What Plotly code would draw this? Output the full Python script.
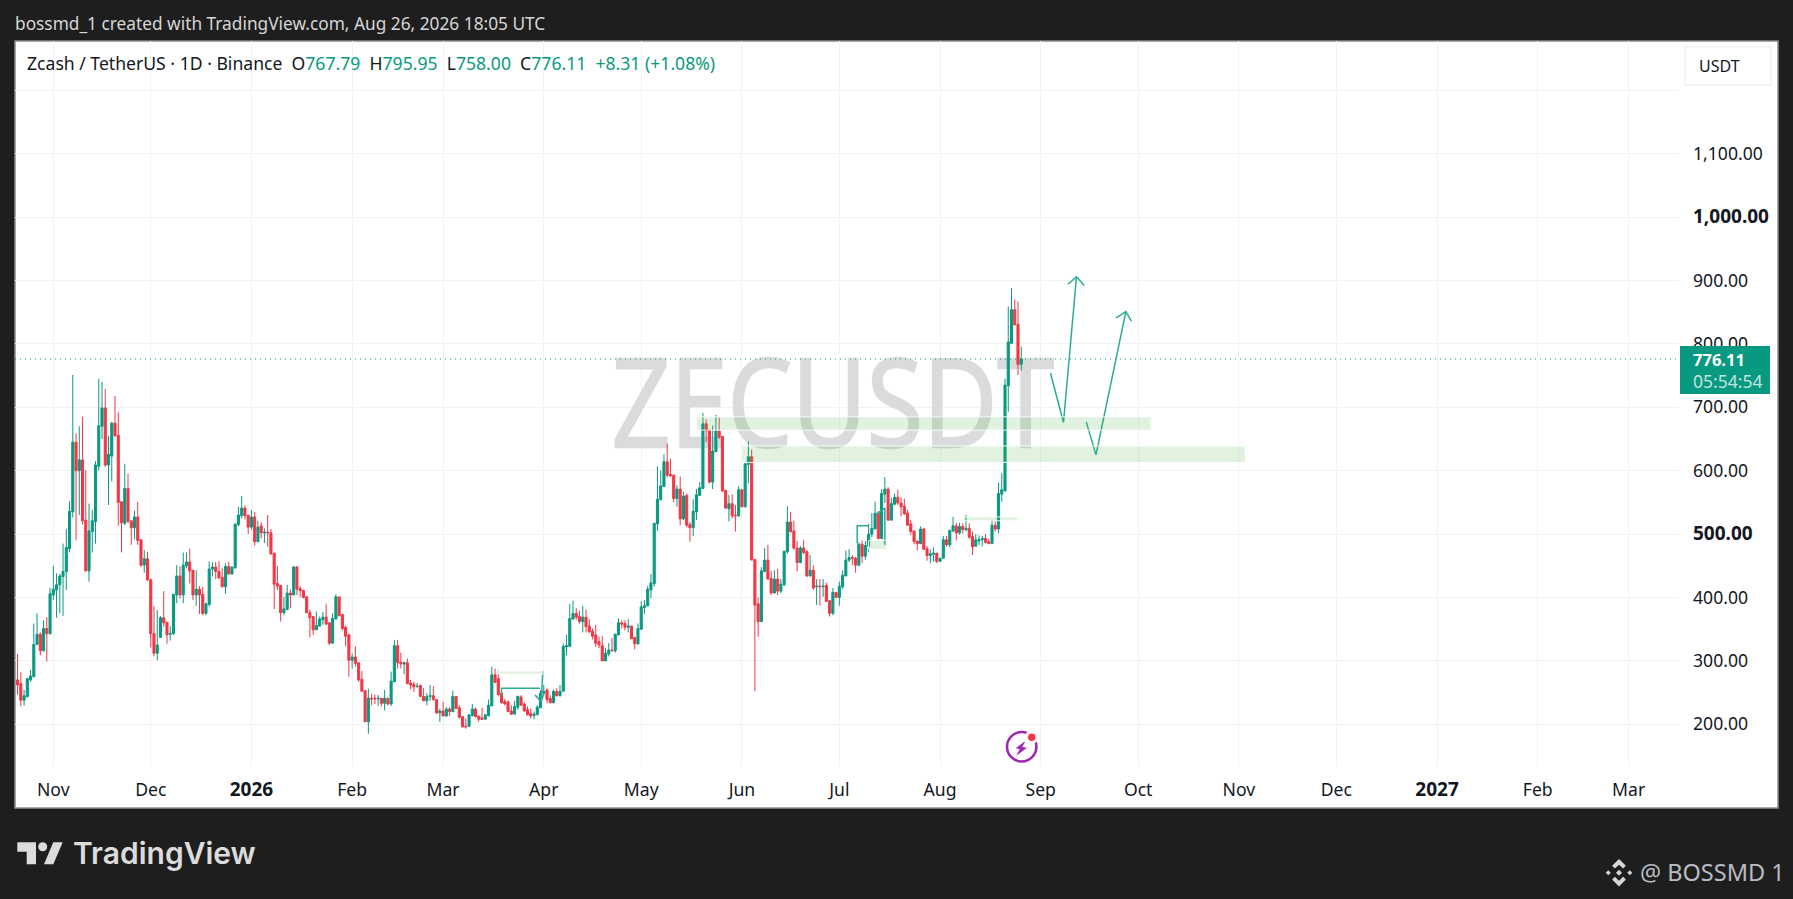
import pandas as pd
import plotly.graph_objects as go

# daily candles, Oct 21 2025 -> Aug 26 2026 (one row per month)
first_day = "2025-10-21"
opens = [
    270,264,238,244,270,275,326,342,316,351,343,
    404,412,420,433,441,477,535,645,600,617,522,442,504,520,607,670,699,609,623,675,656,551,517,572,521,510,527,491,451,461,
    428,343,312,337,368,361,342,343,404,434,404,450,456,443,404,413,405,375,389,445,448,441,432,417,449,437,447,515,529,541,530,
    511,527,488,513,502,503,502,470,422,419,376,381,407,404,448,414,411,401,376,370,349,355,365,369,360,328,366,401,373,353,341,
    301,306,297,271,253,204,241,241,240,241,233,241,232,267,324,298,295,297,265,263,259,261,244,237,244,245,239,218,
    221,213,224,220,244,226,212,197,197,214,224,213,210,208,214,229,278,272,249,236,235,221,216,227,243,232,223,217,214,215,226,
    249,254,241,234,252,245,252,322,323,366,375,370,362,369,355,347,341,330,324,300,311,317,316,341,360,359,353,355,337,327,
    350,384,387,412,422,516,554,575,614,594,593,556,571,524,561,515,510,535,561,572,674,664,582,630,663,654,569,540,548,530,529,
    570,543,610,622,460,390,362,441,459,430,407,429,410,420,472,519,505,478,455,478,472,434,443,417,418,417,419,395,375,408,
    400,417,434,459,463,462,451,484,465,481,500,508,533,493,563,571,522,547,558,549,544,533,516,505,489,485,508,477,466,468,470,
    457,462,491,483,505,513,502,512,507,509,496,481,489,491,493,488,485,514,508,563,568,734,801,854,831,767.79,
]
closes = [
    262,238,245,272,276,326,342,316,351,343,406,
    413,420,434,441,479,536,645,600,617,521,442,505,521,609,671,699,609,626,675,655,550,518,572,520,510,527,490,451,461,428,
    343,312,325,368,360,341,343,405,434,404,451,456,442,404,413,404,375,390,445,448,441,431,417,449,437,448,516,530,541,529,511,
    527,488,511,502,503,502,469,421,418,376,382,407,404,448,413,411,400,376,368,349,356,366,369,358,328,367,401,371,351,339,301,
    306,296,270,252,204,241,240,240,241,233,241,232,268,324,297,295,297,264,262,259,260,244,237,244,245,239,218,221,
    213,224,220,244,225,211,196,196,215,224,212,208,208,215,230,278,266,247,234,232,220,216,228,244,230,221,215,213,216,227,249,
    252,239,234,252,245,252,323,324,367,375,369,362,369,354,346,339,328,325,300,312,317,316,342,360,358,353,355,335,327,351,
    385,387,413,423,517,555,576,614,593,592,556,571,524,560,514,510,536,562,573,674,663,582,631,663,653,568,541,548,529,529,570,
    543,611,622,459,388,362,442,459,429,407,429,410,421,473,519,504,478,455,478,471,434,443,415,418,417,418,394,375,408,400,
    418,435,459,463,462,451,484,465,482,500,509,533,493,564,571,522,548,558,549,543,532,514,504,488,485,508,476,466,469,470,457,
    462,491,483,506,513,502,512,507,509,495,480,491,491,493,487,485,514,508,564,570,735,803,854,830,767.79,776.11,
]
highs = [
    311,282,254,272,286,359,375,345,364,369,415,
    450,438,437,485,508,552,751,659,670,685,601,548,538,615,745,740,729,655,677,718,692,551,611,595,521,537,551,491,475,472,
    430,387,380,371,410,361,355,405,451,449,471,471,477,443,443,418,417,392,457,456,456,457,446,454,456,449,516,543,560,545,530,
    538,535,521,519,509,530,508,470,450,419,401,420,413,450,450,418,412,401,381,370,378,370,377,390,360,375,405,401,373,356,343,
    312,323,297,284,253,256,248,247,246,241,254,241,283,333,333,313,299,304,270,267,265,263,257,249,262,260,239,225,
    235,227,227,253,244,230,212,209,215,232,226,213,226,215,239,291,288,285,257,240,238,230,237,245,246,235,228,225,220,230,254,
    262,257,246,255,257,262,327,341,390,395,383,379,387,381,366,351,357,338,339,320,328,336,343,367,364,364,366,355,337,359,
    394,396,418,437,517,607,600,626,643,619,593,577,591,567,564,519,555,571,582,691,681,664,671,688,684,654,569,562,563,546,576,
    570,611,646,633,460,400,448,478,483,442,443,445,429,473,544,535,521,489,481,491,475,467,451,429,429,429,423,395,415,408,
    425,443,474,476,467,464,487,490,489,516,533,551,536,571,590,574,557,564,570,558,556,538,522,505,489,512,510,481,476,479,470,
    462,497,497,506,527,518,518,517,530,517,504,500,498,497,500,493,522,520,581,596,745,859,888,870,867,795.95,
]
lows = [
    247,228,229,242,267,274,325,309,315,299,341,
    396,368,375,371,412,471,526,490,530,515,441,425,471,485,600,650,606,546,583,654,513,471,514,517,483,492,483,448,439,426,
    321,307,301,336,354,327,332,341,391,398,391,446,422,396,387,374,372,372,386,433,429,429,416,406,436,436,445,512,525,523,500,
    507,482,488,493,486,480,467,382,412,362,372,381,383,404,404,401,399,375,337,341,349,354,357,357,325,328,366,371,348,323,275,
    288,291,267,252,204,185,230,232,229,228,222,230,229,267,288,288,279,264,255,251,259,244,237,230,237,237,216,204,
    213,212,213,219,225,209,195,193,196,212,211,204,207,207,212,229,265,244,233,230,220,215,216,223,230,220,214,209,208,215,226,
    245,233,233,233,244,244,252,309,323,365,365,359,345,345,344,334,322,320,300,300,307,315,313,341,351,348,345,335,318,325,
    349,374,386,399,417,505,554,575,590,590,550,543,514,522,511,488,497,522,561,572,645,580,571,630,650,567,540,520,525,504,527,
    543,542,580,459,252,338,362,441,429,404,407,404,407,418,469,502,475,441,454,468,432,433,412,388,387,401,393,370,372,399,
    387,413,434,456,451,439,449,454,459,472,495,508,492,493,549,522,522,546,546,528,530,514,499,484,474,485,475,458,454,457,454,
    457,462,480,479,504,490,499,501,504,493,467,480,483,481,485,484,485,504,501,551,568,693,801,830,751,758,
]
assert len(opens) == len(closes) == len(highs) == len(lows) == 310, (len(opens), len(closes), len(highs), len(lows))
days = pd.date_range(first_day, periods=len(closes), freq="D")

BIG = '<span style="font-size:19px"><b>%s</b></span>'
price_ticks = [200, 300, 400, 500, 600, 700, 800, 900, 1000, 1100]
price_labels = ["200.00", "300.00", "400.00", BIG % "500.00", "600.00", "700.00", "800.00", "900.00", BIG % "1,000.00", "1,100.00"]
grid_prices = price_ticks + [1200]
month_ticks = ["2025-11-01", "2025-12-01", "2026-01-01", "2026-02-01", "2026-03-01", "2026-04-01", "2026-05-01", "2026-06-01",
               "2026-07-01", "2026-08-01", "2026-09-01", "2026-10-01", "2026-11-01", "2026-12-01", "2027-01-01", "2027-02-01", "2027-03-01"]
month_labels = ["Nov", "Dec", BIG % "2026", "Feb", "Mar", "Apr", "May", "Jun", "Jul", "Aug", "Sep", "Oct", "Nov", "Dec", BIG % "2027", "Feb", "Mar"]
x_range = ["2025-10-20 05:00", "2027-03-16 12:00"]
y_range = [132.6, 1277.8]
last_price = 776.11

# the pale zones someone drew on the chart: start, end, top, bottom
zone_starts = ["2026-05-18", "2026-06-01", "2026-08-08", "2026-03-18", "2026-07-10"]
zone_ends = ["2026-10-05", "2026-11-03", "2026-08-25", "2026-03-31 17:00", "2026-07-15 14:00"]
zone_tops = [685, 639, 527, 284, 490]
zone_bottoms = [664, 613, 521, 279, 476]

# hand drawn paths
up_arrow_x = ["2026-09-04", "2026-09-08", "2026-09-12"]
up_arrow_y = [754, 676, 906]
up_head_x = ["2026-09-09 10:00", "2026-09-12", "2026-09-14 10:00"]
up_head_y = [894, 906, 892]
low_arrow_x = ["2026-09-15", "2026-09-18", "2026-09-27 05:00"]
low_arrow_y = [677, 625, 851]
low_head_x = ["2026-09-24 05:00", "2026-09-27 05:00", "2026-09-28 22:00"]
low_head_y = [841, 851, 836]
mar_line_x = ["2026-03-19", "2026-03-19", "2026-03-30 20:00"]
mar_line_y = [245, 257, 257]
mar_arrow_x = ["2026-03-31 17:00", "2026-03-31 05:00"]
mar_arrow_y = [284, 236]
mar_head_x = ["2026-03-29 08:00", "2026-03-31 05:00", "2026-04-01 00:00"]
mar_head_y = [246, 236, 249]
jul_line_x = ["2026-07-06 12:00", "2026-07-06 12:00", "2026-07-10"]
jul_line_y = [485, 513, 513]
jul_arrow_x = ["2026-07-12", "2026-07-15", "2026-07-15"]
jul_arrow_y = [530, 541, 483]

GREEN = "#089981"
RED = "#f23645"
DRAW = "#2bab96"
DARK = "#131722"
BG = "#1e1e1e"
GRID = "#f1f2f4"
W, H = 1793, 899
L, R, T, B = 15, 1679, 41, 767


def px(x):
    return (x - L) / (R - L)


def py(y):
    return (B - y) / (B - T)


def poly(points):
    return "M" + " L".join(f"{px(x):.5f},{py(y):.5f}" for x, y in points) + " Z"


def label(x, y, text, size, color, anchor="left", family="Noto Sans", weight=None):
    font = dict(size=size, color=color, family=family)
    if weight:
        font["weight"] = weight
    return dict(x=px(x), y=py(y), xref="paper", yref="paper", text=text, showarrow=False, xanchor=anchor, yanchor="middle",
                font=font, borderpad=0, borderwidth=0)


fig = go.Figure()

# watermark sits on the lower axes so the candles on the overlaying axes cover it
fig.add_trace(go.Scatter(x=["2026-06-29"], y=[686], mode="text", text=["ZECUSDT"], hoverinfo="skip", showlegend=False,
                         textposition="middle center",
                         textfont=dict(size=122, color="#dadbdd", family="Open Sans")))

fig.add_trace(go.Candlestick(x=days, open=opens, high=highs, low=lows, close=closes, xaxis="x2", yaxis="y2", showlegend=False,
                             whiskerwidth=0,
                             increasing=dict(line=dict(color=GREEN, width=1), fillcolor=GREEN),
                             decreasing=dict(line=dict(color=RED, width=1), fillcolor=RED)))

for xs, ys in [(up_arrow_x, up_arrow_y), (up_head_x, up_head_y), (low_arrow_x, low_arrow_y), (low_head_x, low_head_y),
               (mar_line_x, mar_line_y), (mar_arrow_x, mar_arrow_y), (mar_head_x, mar_head_y),
               (jul_line_x, jul_line_y), (jul_arrow_x, jul_arrow_y)]:
    fig.add_trace(go.Scatter(x=xs, y=ys, mode="lines", xaxis="x2", yaxis="y2", showlegend=False, hoverinfo="skip",
                             line=dict(color=DRAW, width=1.5)))

shapes = [
    # white chart card, reaches past the pane to hold both axes
    dict(type="rect", xref="paper", yref="paper", layer="below", x0=px(15), x1=px(1778), y0=py(808), y1=py(41),
         fillcolor="white", line=dict(color="#8a8a8a", width=1.5)),
]
for x0, x1, top, bottom in zip(zone_starts, zone_ends, zone_tops, zone_bottoms):
    shapes.append(dict(type="rect", xref="x", yref="y", x0=x0, x1=x1, y0=bottom, y1=top, layer="above",
                       fillcolor="rgba(76,175,80,0.17)", line=dict(color="rgba(255,255,255,0.9)", width=1)))
shapes += [
    dict(type="line", xref="paper", yref="y", x0=0, x1=1, y0=last_price, y1=last_price, layer="above",
         line=dict(color=GREEN, width=1, dash="1px,4px")),
    # price tag
    dict(type="rect", xref="paper", yref="paper", layer="above", x0=px(1680), x1=px(1770), y0=py(394), y1=py(346),
         fillcolor=GREEN, line=dict(width=0)),
    # USDT button
    dict(type="rect", xref="paper", yref="paper", layer="above", x0=px(1685), x1=px(1771), y0=py(85), y1=py(47),
         fillcolor="white", line=dict(color="#eff1f4", width=1.5)),
    # TradingView mark
    dict(type="path", xref="paper", yref="paper", layer="above", line=dict(width=0), fillcolor="#dcdcdc",
         path=poly([(17.3, 842.3), (36, 842.3), (36, 864.3), (26.7, 864.3), (26.7, 851.7), (17.3, 851.7)])),
    dict(type="circle", xref="paper", yref="paper", layer="above", line=dict(width=0), fillcolor="#dcdcdc",
         x0=px(38.2), x1=px(47.2), y0=py(851.2), y1=py(842.2)),
    dict(type="path", xref="paper", yref="paper", layer="above", line=dict(width=0), fillcolor="#dcdcdc",
         path=poly([(62.7, 842.3), (53.3, 864.3), (44, 864.3), (53.3, 842.3)])),
    # lightning badge
    dict(type="circle", xref="paper", yref="paper", layer="above", line=dict(color="#9c27b0", width=2.5), fillcolor="white",
         x0=px(1007), x1=px(1036.4), y0=py(761.4), y1=py(732)),
    dict(type="circle", xref="paper", yref="paper", layer="above", line=dict(width=0), fillcolor="white",
         x0=px(1025), x1=px(1038.4), y0=py(744), y1=py(730.6)),
    dict(type="circle", xref="paper", yref="paper", layer="above", line=dict(width=0), fillcolor=RED,
         x0=px(1028), x1=px(1035.4), y0=py(741), y1=py(733.6)),
    dict(type="path", xref="paper", yref="paper", layer="above", line=dict(width=0), fillcolor="#9c27b0",
         path=poly([(1024.3, 741.7), (1015.7, 748.3), (1019.7, 749), (1016.3, 755.7), (1027, 747.7), (1022.3, 747), (1025, 741.7)])),
]

# binance diamond next to the signature
cx, cy, s = 1619, 872.7, 13.8
shapes.append(dict(type="path", xref="paper", yref="paper", layer="above", line=dict(width=0), fillcolor="#d4d6da",
                   path=poly([(cx, cy - s), (cx + .5 * s, cy - .5 * s), (cx + .3 * s, cy - .3 * s), (cx, cy - .58 * s),
                              (cx - .3 * s, cy - .3 * s), (cx - .5 * s, cy - .5 * s)])))
shapes.append(dict(type="path", xref="paper", yref="paper", layer="above", line=dict(width=0), fillcolor="#d4d6da",
                   path=poly([(cx, cy + s), (cx + .5 * s, cy + .5 * s), (cx + .3 * s, cy + .3 * s), (cx, cy + .58 * s),
                              (cx - .3 * s, cy + .3 * s), (cx - .5 * s, cy + .5 * s)])))
for dx, d in [(0, .22), (-.78, .18), (.78, .18)]:
    c = cx + dx * s
    shapes.append(dict(type="path", xref="paper", yref="paper", layer="above", line=dict(width=0), fillcolor="#d4d6da",
                       path=poly([(c, cy - d * s), (c + d * s, cy), (c, cy + d * s), (c - d * s, cy)])))

gap = "&nbsp;&nbsp;"
g = f'<span style="color:{GREEN}">'
legend_text = (f"Zcash / TetherUS · 1D · Binance{gap}O{g}767.79</span>{gap}H{g}795.95</span>{gap}"
               f"L{g}758.00</span>{gap}C{g}776.11</span>{gap}{g}+8.31 (+1.08%)</span>")

annotations = [
    label(15, 23, "bossmd_1 created with TradingView.com, Aug 26, 2026 18:05 UTC", 17.3, "#d6d6d6"),
    label(27, 63.5, legend_text, 17.6, DARK),
    label(1699, 66, "USDT", 16, DARK),
    label(1693, 359, "<b>776.11</b>", 16.5, "white"),
    label(1693, 381, "05:54:54", 17.5, "rgba(255,255,255,0.75)"),
    label(73, 853, "TradingView", 30, "#dcdcdc", family="Inter", weight=600),
    label(1640, 872, "@ BOSSMD 1", 23.5, "#b9bcc2"),
]

axis_font = dict(size=17.6, color=DARK, family="Noto Sans")
fig.update_layout(
    width=W, height=H, paper_bgcolor=BG, plot_bgcolor="white", showlegend=False, boxgap=0.2, boxgroupgap=0.2,
    margin=dict(l=L, r=W - R, t=T, b=H - B, pad=0),
    xaxis=dict(type="date", range=x_range, tickmode="array", tickvals=month_ticks, ticktext=month_labels, tickangle=0,
               showgrid=True, gridcolor=GRID, gridwidth=1, zeroline=False, showline=False, ticks="", tickfont=axis_font,
               ticklabelstandoff=10, rangeslider=dict(visible=False), fixedrange=True),
    yaxis=dict(range=y_range, side="right", tickmode="array", tickvals=grid_prices, ticktext=price_labels + [""],
               showgrid=True, gridcolor=GRID, gridwidth=1, zeroline=False, showline=False, ticks="", tickfont=axis_font,
               ticklabelstandoff=13, fixedrange=True),
    xaxis2=dict(type="date", range=x_range, overlaying="x", visible=False, rangeslider=dict(visible=False), fixedrange=True),
    yaxis2=dict(range=y_range, overlaying="y", side="right", visible=False, fixedrange=True),
    shapes=shapes,
    annotations=annotations,
)

# the watermark font in the picture is narrower than anything installed, squeeze the real text to its width
squeeze = ("var t=document.querySelector('.scatterlayer .textpoint text');"
           "if(t){t.setAttribute('textLength','442');t.setAttribute('lengthAdjust','spacingAndGlyphs');"
           "t.style.stroke='#dadbdd';t.style.strokeWidth='2.5px';}")
fig.write_html("out.html", config=dict(displayModeBar=False),
               post_script="document.body.style.margin='0';document.body.style.overflow='hidden';document.body.style.background='%s';" % BG + squeeze)
